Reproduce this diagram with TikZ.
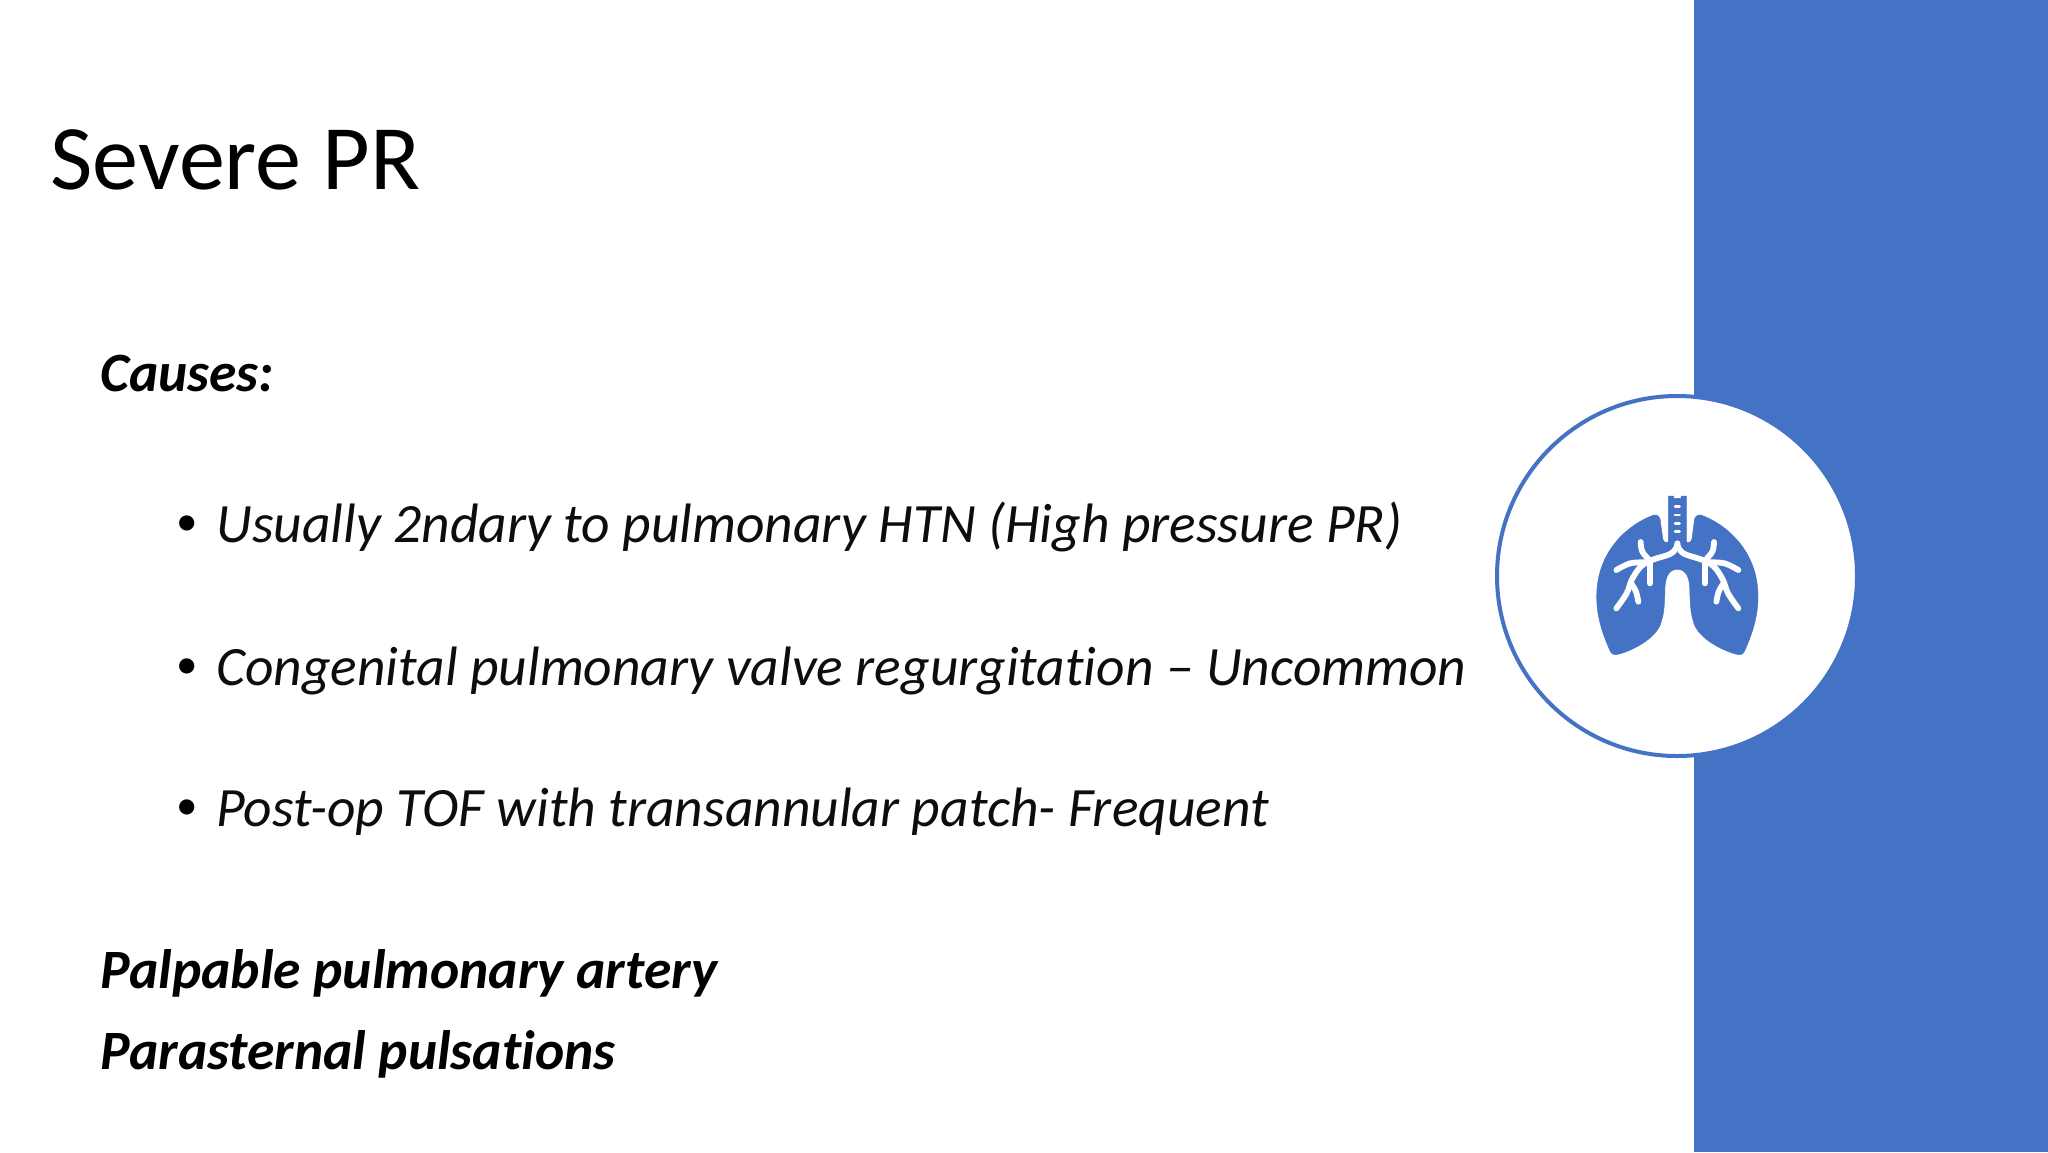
\documentclass[tikz,border=0pt]{standalone}
\usepackage{fontspec}
\setmainfont[Ligatures=CommonOff]{Carlito}
\definecolor{bandblue}{HTML}{4472C4}
\tikzset{
	titletext/.style={anchor=base west, inner sep=0pt, font=\fontsize{46.1}{50}\selectfont, text=black},
	bodytext/.style={anchor=base west, inner sep=0pt, font=\fontsize{27.75}{32}\selectfont\itshape, text=black!95},
	headtext/.style={anchor=base west, inner sep=0pt, font=\fontsize{27.75}{32}\selectfont\itshape\bfseries},
	bullettext/.style={anchor=base west, inner sep=0pt, font=\fontsize{21.5}{24}\selectfont},
	airway/.style={draw=white, line cap=round, line join=round, line width=2.9pt},
	rung/.style={draw=white, line cap=round, line width=1.2pt}
}
\begin{document}
\begin{tikzpicture}[x=0.5pt, y=-0.5pt]
	%%%%% BACKGROUND %%%%%
	\useasboundingbox (0, 0) rectangle (2048, 1152);
	\fill[white] (0, 0) rectangle (2048, 1152);
	\fill[bandblue] (1694, 0) rectangle (2048, 1152);
	\draw[fill=white, draw=bandblue, line width=2pt] (1677, 576) circle (180);

	%%%%% TEXT %%%%%
	\node[titletext] (title) at (50, 189) {Severe PR};
	\node[headtext] (causes) at (100, 391) {Causes:};

	\node[bullettext] (bulletA) at (176.5, 535) {•};
	\node[bodytext] (usually) at (216, 542) {Usually 2ndary to pulmonary HTN (High pressure PR)};
	\node[bullettext] (bulletB) at (176.5, 678) {•};
	\node[bodytext] (congenital) at (216, 685) {Congenital pulmonary valve regurgitation – Uncommon};
	\node[bullettext] (bulletC) at (176.5, 819) {•};
	\node[bodytext] (postop) at (216, 826) {Post-op TOF with transannular patch- Frequent};

	\node[headtext] (palpable) at (100, 988) {Palpable pulmonary artery};
	\node[headtext] (parasternal) at (100, 1069) {Parasternal pulsations};

	%%%%% LUNGS %%%%%
	\foreach \side in {1, -1} {
		\begin{scope}[shift={(1677.33, 480)}, x=0.1667pt*\side, y=-0.1667pt]
			% half of the lungs with the trachea
			\fill[bandblue, draw=bandblue, line width=0.2pt] (0, 268)
				.. controls (25, 268) and (35, 290) .. (37, 320)
				.. controls (38, 370) and (40, 400) .. (47, 420)
				.. controls (55, 470) and (130, 510) .. (175, 522)
				.. controls (190, 527) and (198, 522) .. (202, 512)
				.. controls (225, 460) and (242, 410) .. (242, 350)
				.. controls (242, 200) and (130, 125) .. (70, 105)
				.. controls (58, 103) and (50, 112) .. (50, 130)
				-- (44, 175)
				.. controls (43, 188) and (30, 190) .. (27, 185)
				-- (27, 48) -- (11, 48) -- (11, 55) -- (0, 55) -- cycle;
			\foreach \y in {80, 105, 130, 155}
				\draw[rung] (0, \y) -- (7, \y);
			% bronchi
			\draw[airway] plot[smooth, tension=0.6] coordinates {(0, 190) (4, 205) (22, 222) (62, 235) (82, 242) (112, 262) (137, 300) (152, 340) (183, 385)};
			\draw[airway] plot[smooth, tension=0.6] coordinates {(110, 186) (105, 215) (82, 242)};
			\draw[airway] (82, 250) -- (82, 310);
			\draw[airway] plot[smooth, tension=0.6] coordinates {(97, 247) (142, 250) (183, 270)};
			\draw[airway] plot[smooth, tension=0.6] coordinates {(137, 312) (124, 335) (117, 365)};
		\end{scope}
	}
\end{tikzpicture}
\end{document}
